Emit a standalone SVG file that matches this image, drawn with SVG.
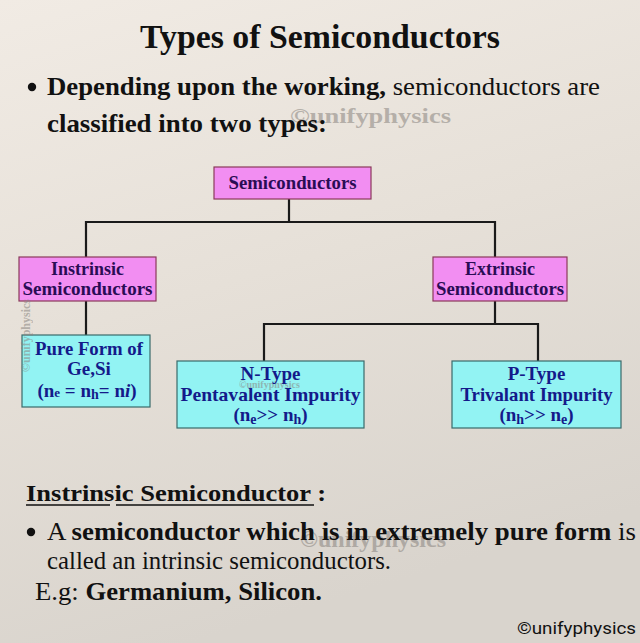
<svg xmlns="http://www.w3.org/2000/svg" width="640" height="643" viewBox="0 0 640 643">
  <style>
    text { font-family: "Times New Roman", Tinos, "Liberation Serif", "Nimbus Roman", "Nimbus Roman No9 L", FreeSerif, Times, serif; }
    .b { font-weight: bold; }
    .pink { fill: #f28ef2; stroke: #8a3a5a; stroke-width: 1.2; }
    .cyan { fill: #92f3f3; stroke: #3a6a6a; stroke-width: 1.2; }
    .pt { font-weight: bold; font-size: 18px; fill: #2a0c55; text-anchor: middle; }
    .ct { font-weight: bold; font-size: 19px; fill: #141a8a; text-anchor: middle; }
    .wm { font-weight: bold; fill: #8a8580; opacity: 0.55; }
    .conn { fill: none; stroke: #1a1a1a; stroke-width: 2.2; }
    .sans { font-family: Roboto, "Noto Sans", sans-serif; }
  </style>
  <defs>
    <linearGradient id="bg" x1="0" y1="0" x2="0.3" y2="1">
      <stop offset="0" stop-color="#f1ebe4"/>
      <stop offset="0.5" stop-color="#e6e0d8"/>
      <stop offset="1" stop-color="#d9d4cd"/>
    </linearGradient>
  </defs>
  <rect width="640" height="643" fill="url(#bg)"/>

  <!-- Heading -->
  <text class="b" x="140" y="48" font-size="34" fill="#111" textLength="360" lengthAdjust="spacingAndGlyphs">Types of Semiconductors</text>
  <circle cx="32" cy="87" r="4.2" fill="#111"/>
  <text x="47" y="95" font-size="26" fill="#111" textLength="553" lengthAdjust="spacingAndGlyphs"><tspan font-weight="bold">Depending upon the working,</tspan> semiconductors are</text>
  <text class="wm" x="290" y="123" font-size="22" textLength="161" lengthAdjust="spacingAndGlyphs">©unifyphysics</text>
  <text class="b" x="47" y="132" font-size="26" fill="#111" textLength="280" lengthAdjust="spacingAndGlyphs">classified into two types:</text>

  <!-- Connectors -->
  <g id="connectors" class="conn">
    <path d="M289 199 V222"/>
    <path d="M86 257 V222 H495 V257"/>
    <path d="M86 301 V335"/>
    <path d="M495 301 V324"/>
    <path d="M264 361 V324 H538 V361"/>
  </g>

  <g id="semiconductors">
    <rect class="pink" x="214" y="167" width="157" height="32"/>
    <text class="pt" x="292.5" y="189" textLength="128" lengthAdjust="spacingAndGlyphs">Semiconductors</text>
  </g>

  <g id="intrinsic">
    <rect class="pink" x="19" y="257" width="137" height="44"/>
    <text class="pt" x="87.5" y="275">Instrinsic</text>
    <text class="pt" x="87.5" y="295" textLength="130" lengthAdjust="spacingAndGlyphs">Semiconductors</text>
  </g>

  <g id="extrinsic">
    <rect class="pink" x="433" y="257" width="134" height="44"/>
    <text class="pt" x="500" y="275">Extrinsic</text>
    <text class="pt" x="500" y="295" textLength="128" lengthAdjust="spacingAndGlyphs">Semiconductors</text>
  </g>

  <g id="pure-form">
    <rect class="cyan" x="22" y="335" width="128" height="72"/>
    <text class="ct" x="89" y="355" textLength="108" lengthAdjust="spacingAndGlyphs">Pure Form of</text>
    <text class="ct" x="89" y="375">Ge,Si</text>
    <text class="ct" x="87" y="397">(n<tspan font-size="13">e</tspan> = n<tspan font-size="14" dy="2">h</tspan><tspan dy="-2">= n</tspan><tspan font-style="italic">i</tspan>)</text>
  </g>

  <g id="n-type">
    <rect class="cyan" x="177" y="361" width="187" height="67"/>
    <text class="wm" x="239" y="388" font-size="10" font-weight="normal">©unifyphysics</text>
    <text class="ct" x="270.5" y="380">N-Type</text>
    <text class="ct" x="270.5" y="401" textLength="180" lengthAdjust="spacingAndGlyphs">Pentavalent Impurity</text>
    <text class="ct" x="270.5" y="421">(n<tspan font-size="14" dy="3">e</tspan><tspan dy="-3">&gt;&gt; n</tspan><tspan font-size="14" dy="3">h</tspan><tspan dy="-3">)</tspan></text>
  </g>

  <g id="p-type">
    <rect class="cyan" x="452" y="361" width="169" height="67"/>
    <text class="ct" x="536.5" y="380">P-Type</text>
    <text class="ct" x="536.5" y="401" textLength="152" lengthAdjust="spacingAndGlyphs">Trivalant Impurity</text>
    <text class="ct" x="536.5" y="421">(n<tspan font-size="14" dy="3">h</tspan><tspan dy="-3">&gt;&gt; n</tspan><tspan font-size="14" dy="3">e</tspan><tspan dy="-3">)</tspan></text>
  </g>

  <!-- vertical watermark -->
  <text class="wm" font-size="12" font-weight="normal" transform="translate(30 372) rotate(-90)">©unifyphysics</text>

  <!-- Bottom section -->
  <text class="b" x="26" y="501" font-size="23" fill="#111" textLength="300" lengthAdjust="spacingAndGlyphs">Instrinsic Semiconductor :</text>
  <path d="M26 505 H110 M116 505 H314" stroke="#111" stroke-width="1.6"/>
  <circle cx="31" cy="532" r="4.2" fill="#111"/>
  <text class="wm" x="300" y="547" font-size="24" font-weight="normal" opacity="0.35">©unifyphysics</text>
  <text x="47" y="540" font-size="26" fill="#111" textLength="589" lengthAdjust="spacingAndGlyphs">A <tspan font-weight="bold">semiconductor which is in extremely pure form</tspan> is</text>
  <text x="47" y="569" font-size="26" fill="#111" textLength="344" lengthAdjust="spacingAndGlyphs">called an intrinsic semiconductors.</text>
  <text x="35" y="600" font-size="26" fill="#111" textLength="287" lengthAdjust="spacingAndGlyphs">E.g: <tspan font-weight="bold">Germanium, Silicon.</tspan></text>
  <text class="sans" x="517" y="634" font-size="16" fill="#111" textLength="119" lengthAdjust="spacingAndGlyphs">©unifyphysics</text>
</svg>
